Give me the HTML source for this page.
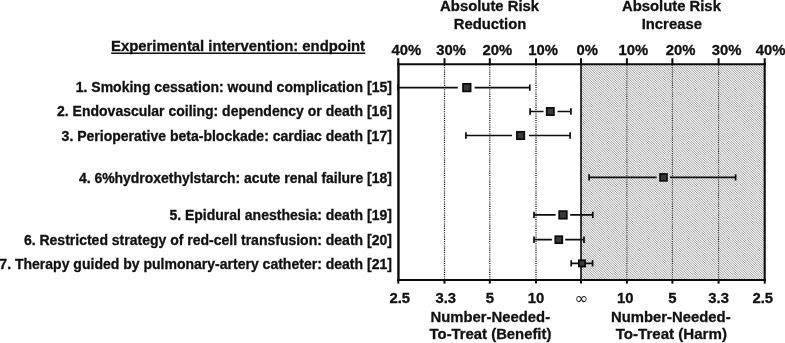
<!DOCTYPE html>
<html><head><meta charset="utf-8"><title>Absolute risk forest plot</title>
<style>
html,body{margin:0;padding:0;background:#fff;}
svg{display:block;font-family:"Liberation Sans",Arial,Helvetica,sans-serif;font-weight:bold;fill:#111;}
text{stroke:#111;stroke-width:0.3px;}
.t{font-size:14.85px}
.r{font-size:14.03px}
</style></head><body>
<svg width="785" height="343" viewBox="0 0 785 343">
<rect x="0" y="0" width="785" height="343" fill="#fff"/>

<clipPath id="hc"><rect x="581.0" y="64.2" width="183.7" height="215.8"/></clipPath>
<rect x="581.0" y="64.2" width="183.7" height="215.8" fill="#fbfbfb"/>
<path clip-path="url(#hc)" d="M347.94,64.2l233.1,215.8M350.44,64.2l233.1,215.8M352.94,64.2l233.1,215.8M355.44,64.2l233.1,215.8M357.94,64.2l233.1,215.8M360.44,64.2l233.1,215.8M362.94,64.2l233.1,215.8M365.44,64.2l233.1,215.8M367.94,64.2l233.1,215.8M370.44,64.2l233.1,215.8M372.94,64.2l233.1,215.8M375.44,64.2l233.1,215.8M377.94,64.2l233.1,215.8M380.44,64.2l233.1,215.8M382.94,64.2l233.1,215.8M385.44,64.2l233.1,215.8M387.94,64.2l233.1,215.8M390.44,64.2l233.1,215.8M392.94,64.2l233.1,215.8M395.44,64.2l233.1,215.8M397.94,64.2l233.1,215.8M400.44,64.2l233.1,215.8M402.94,64.2l233.1,215.8M405.44,64.2l233.1,215.8M407.94,64.2l233.1,215.8M410.44,64.2l233.1,215.8M412.94,64.2l233.1,215.8M415.44,64.2l233.1,215.8M417.94,64.2l233.1,215.8M420.44,64.2l233.1,215.8M422.94,64.2l233.1,215.8M425.44,64.2l233.1,215.8M427.94,64.2l233.1,215.8M430.44,64.2l233.1,215.8M432.94,64.2l233.1,215.8M435.44,64.2l233.1,215.8M437.94,64.2l233.1,215.8M440.44,64.2l233.1,215.8M442.94,64.2l233.1,215.8M445.44,64.2l233.1,215.8M447.94,64.2l233.1,215.8M450.44,64.2l233.1,215.8M452.94,64.2l233.1,215.8M455.44,64.2l233.1,215.8M457.94,64.2l233.1,215.8M460.44,64.2l233.1,215.8M462.94,64.2l233.1,215.8M465.44,64.2l233.1,215.8M467.94,64.2l233.1,215.8M470.44,64.2l233.1,215.8M472.94,64.2l233.1,215.8M475.44,64.2l233.1,215.8M477.94,64.2l233.1,215.8M480.44,64.2l233.1,215.8M482.94,64.2l233.1,215.8M485.44,64.2l233.1,215.8M487.94,64.2l233.1,215.8M490.44,64.2l233.1,215.8M492.94,64.2l233.1,215.8M495.44,64.2l233.1,215.8M497.94,64.2l233.1,215.8M500.44,64.2l233.1,215.8M502.94,64.2l233.1,215.8M505.44,64.2l233.1,215.8M507.94,64.2l233.1,215.8M510.44,64.2l233.1,215.8M512.94,64.2l233.1,215.8M515.44,64.2l233.1,215.8M517.94,64.2l233.1,215.8M520.44,64.2l233.1,215.8M522.94,64.2l233.1,215.8M525.44,64.2l233.1,215.8M527.94,64.2l233.1,215.8M530.44,64.2l233.1,215.8M532.94,64.2l233.1,215.8M535.44,64.2l233.1,215.8M537.94,64.2l233.1,215.8M540.44,64.2l233.1,215.8M542.94,64.2l233.1,215.8M545.44,64.2l233.1,215.8M547.94,64.2l233.1,215.8M550.44,64.2l233.1,215.8M552.94,64.2l233.1,215.8M555.44,64.2l233.1,215.8M557.94,64.2l233.1,215.8M560.44,64.2l233.1,215.8M562.94,64.2l233.1,215.8M565.44,64.2l233.1,215.8M567.94,64.2l233.1,215.8M570.44,64.2l233.1,215.8M572.94,64.2l233.1,215.8M575.44,64.2l233.1,215.8M577.94,64.2l233.1,215.8M580.44,64.2l233.1,215.8M582.94,64.2l233.1,215.8M585.44,64.2l233.1,215.8M587.94,64.2l233.1,215.8M590.44,64.2l233.1,215.8M592.94,64.2l233.1,215.8M595.44,64.2l233.1,215.8M597.94,64.2l233.1,215.8M600.44,64.2l233.1,215.8M602.94,64.2l233.1,215.8M605.44,64.2l233.1,215.8M607.94,64.2l233.1,215.8M610.44,64.2l233.1,215.8M612.94,64.2l233.1,215.8M615.44,64.2l233.1,215.8M617.94,64.2l233.1,215.8M620.44,64.2l233.1,215.8M622.94,64.2l233.1,215.8M625.44,64.2l233.1,215.8M627.94,64.2l233.1,215.8M630.44,64.2l233.1,215.8M632.94,64.2l233.1,215.8M635.44,64.2l233.1,215.8M637.94,64.2l233.1,215.8M640.44,64.2l233.1,215.8M642.94,64.2l233.1,215.8M645.44,64.2l233.1,215.8M647.94,64.2l233.1,215.8M650.44,64.2l233.1,215.8M652.94,64.2l233.1,215.8M655.44,64.2l233.1,215.8M657.94,64.2l233.1,215.8M660.44,64.2l233.1,215.8M662.94,64.2l233.1,215.8M665.44,64.2l233.1,215.8M667.94,64.2l233.1,215.8M670.44,64.2l233.1,215.8M672.94,64.2l233.1,215.8M675.44,64.2l233.1,215.8M677.94,64.2l233.1,215.8M680.44,64.2l233.1,215.8M682.94,64.2l233.1,215.8M685.44,64.2l233.1,215.8M687.94,64.2l233.1,215.8M690.44,64.2l233.1,215.8M692.94,64.2l233.1,215.8M695.44,64.2l233.1,215.8M697.94,64.2l233.1,215.8M700.44,64.2l233.1,215.8M702.94,64.2l233.1,215.8M705.44,64.2l233.1,215.8M707.94,64.2l233.1,215.8M710.44,64.2l233.1,215.8M712.94,64.2l233.1,215.8M715.44,64.2l233.1,215.8M717.94,64.2l233.1,215.8M720.44,64.2l233.1,215.8M722.94,64.2l233.1,215.8M725.44,64.2l233.1,215.8M727.94,64.2l233.1,215.8M730.44,64.2l233.1,215.8M732.94,64.2l233.1,215.8M735.44,64.2l233.1,215.8M737.94,64.2l233.1,215.8M740.44,64.2l233.1,215.8M742.94,64.2l233.1,215.8M745.44,64.2l233.1,215.8M747.94,64.2l233.1,215.8M750.44,64.2l233.1,215.8M752.94,64.2l233.1,215.8M755.44,64.2l233.1,215.8M757.94,64.2l233.1,215.8M760.44,64.2l233.1,215.8M762.94,64.2l233.1,215.8" stroke="#828282" stroke-width="0.74" fill="none"/>
<line x1="444.5" y1="65" x2="444.5" y2="279" stroke="#1a1a1a" stroke-width="1.25" stroke-dasharray="1.1 1.1"/>
<line x1="489.8" y1="65" x2="489.8" y2="279" stroke="#1a1a1a" stroke-width="1.25" stroke-dasharray="1.1 1.1"/>
<line x1="536.0" y1="65" x2="536.0" y2="279" stroke="#1a1a1a" stroke-width="1.25" stroke-dasharray="1.1 1.1"/>
<line x1="626.9" y1="65" x2="626.9" y2="279" stroke="#303030" stroke-width="1.05" stroke-dasharray="1.1 1.1"/>
<line x1="672.4" y1="65" x2="672.4" y2="279" stroke="#303030" stroke-width="1.05" stroke-dasharray="1.1 1.1"/>
<line x1="718.6" y1="65" x2="718.6" y2="279" stroke="#303030" stroke-width="1.05" stroke-dasharray="1.1 1.1"/>
<line x1="581.0" y1="64.2" x2="581.0" y2="280.0" stroke="#0a0a0a" stroke-width="1.6"/>
<g stroke="#0a0a0a" fill="none"><path d="M398.45,63.2 V281.05" stroke-width="2.4"/><path d="M764.7,63.2 V281.05" stroke-width="2.1"/><path d="M397.25,64.2 H765.75" stroke-width="2"/><path d="M397.25,280.0 H765.75" stroke-width="2.1"/></g>
<line x1="398.3" y1="58.2" x2="398.3" y2="64.2" stroke="#0a0a0a" stroke-width="2"/>
<line x1="398.3" y1="280.0" x2="398.3" y2="283.6" stroke="#0a0a0a" stroke-width="2"/>
<line x1="444.5" y1="58.2" x2="444.5" y2="64.2" stroke="#0a0a0a" stroke-width="2"/>
<line x1="444.5" y1="280.0" x2="444.5" y2="283.6" stroke="#0a0a0a" stroke-width="2"/>
<line x1="489.8" y1="58.2" x2="489.8" y2="64.2" stroke="#0a0a0a" stroke-width="2"/>
<line x1="489.8" y1="280.0" x2="489.8" y2="283.6" stroke="#0a0a0a" stroke-width="2"/>
<line x1="536.0" y1="58.2" x2="536.0" y2="64.2" stroke="#0a0a0a" stroke-width="2"/>
<line x1="536.0" y1="280.0" x2="536.0" y2="283.6" stroke="#0a0a0a" stroke-width="2"/>
<line x1="581.0" y1="58.2" x2="581.0" y2="64.2" stroke="#0a0a0a" stroke-width="2"/>
<line x1="581.0" y1="280.0" x2="581.0" y2="283.6" stroke="#0a0a0a" stroke-width="2"/>
<line x1="626.9" y1="58.2" x2="626.9" y2="64.2" stroke="#0a0a0a" stroke-width="2"/>
<line x1="626.9" y1="280.0" x2="626.9" y2="283.6" stroke="#0a0a0a" stroke-width="2"/>
<line x1="672.4" y1="58.2" x2="672.4" y2="64.2" stroke="#0a0a0a" stroke-width="2"/>
<line x1="672.4" y1="280.0" x2="672.4" y2="283.6" stroke="#0a0a0a" stroke-width="2"/>
<line x1="718.6" y1="58.2" x2="718.6" y2="64.2" stroke="#0a0a0a" stroke-width="2"/>
<line x1="718.6" y1="280.0" x2="718.6" y2="283.6" stroke="#0a0a0a" stroke-width="2"/>
<line x1="764.7" y1="58.2" x2="764.7" y2="64.2" stroke="#0a0a0a" stroke-width="2"/>
<line x1="764.7" y1="280.0" x2="764.7" y2="283.6" stroke="#0a0a0a" stroke-width="2"/>
<g stroke="#0c0c0c" stroke-width="1.7" fill="none"><path d="M398.1,87.6 H457.8 M474.6,87.6 H529.8 M398.1,84.39999999999999 V90.8 M529.8,84.39999999999999 V90.8"/><rect x="463.00" y="83.80" width="7.6" height="7.6" fill="#393939" stroke="#0a0a0a" stroke-width="1.7"/></g>
<g stroke="#0c0c0c" stroke-width="1.7" fill="none"><path d="M530.1,111.5 H543.5 M557.5,111.5 H570.9 M530.1,108.3 V114.7 M570.9,108.3 V114.7"/><rect x="546.70" y="107.90" width="7.2" height="7.2" fill="#393939" stroke="#0a0a0a" stroke-width="1.7"/></g>
<g stroke="#0c0c0c" stroke-width="1.7" fill="none"><path d="M465.9,135.5 H512.0 M528.9,135.5 H570.1 M465.9,132.3 V138.7 M570.1,132.3 V138.7"/><rect x="516.90" y="131.80" width="7.4" height="7.4" fill="#393939" stroke="#0a0a0a" stroke-width="1.7"/></g>
<g stroke="#0c0c0c" stroke-width="1.7" fill="none"><path d="M589.1,177.4 H656.6 M669.9,177.4 H735.6 M589.1,174.20000000000002 V180.6 M735.6,174.20000000000002 V180.6"/><rect x="660.05" y="173.95" width="6.9" height="6.9" fill="#393939" stroke="#0a0a0a" stroke-width="1.7"/></g>
<g stroke="#0c0c0c" stroke-width="1.7" fill="none"><path d="M534.0,214.9 H555.6 M570.2,214.9 H592.8 M534.0,211.70000000000002 V218.1 M592.8,211.70000000000002 V218.1"/><rect x="559.20" y="211.10" width="7.6" height="7.6" fill="#393939" stroke="#0a0a0a" stroke-width="1.7"/></g>
<g stroke="#0c0c0c" stroke-width="1.7" fill="none"><path d="M534.0,239.7 H551.9 M565.2,239.7 H584.0 M534.0,236.5 V242.89999999999998 M584.0,236.5 V242.89999999999998"/><rect x="555.30" y="236.20" width="7.0" height="7.0" fill="#393939" stroke="#0a0a0a" stroke-width="1.7"/></g>
<g stroke="#0c0c0c" stroke-width="1.7" fill="none"><path d="M571.2,263.4 H578.0 M586.0,263.4 H592.6 M571.2,260.2 V266.59999999999997 M592.6,260.2 V266.59999999999997"/><rect x="578.85" y="260.25" width="6.3" height="6.3" fill="#393939" stroke="#0a0a0a" stroke-width="1.7"/></g>
<text class="r" style="font-size:14.03px" x="391.9" y="92.2" text-anchor="end">1. Smoking cessation: wound complication [15]</text>
<text class="r" style="font-size:14.03px" x="391.9" y="116.3" text-anchor="end">2. Endovascular coiling: dependency or death [16]</text>
<text class="r" style="font-size:14.03px" x="391.9" y="140.8" text-anchor="end">3. Perioperative beta-blockade: cardiac death [17]</text>
<text class="r" style="font-size:13.95px" x="391.9" y="182.5" text-anchor="end">4. 6%hydroxethylstarch: acute renal failure [18]</text>
<text class="r" style="font-size:14.0px" x="391.9" y="219.5" text-anchor="end">5. Epidural anesthesia: death [19]</text>
<text class="r" style="font-size:14.0px" x="391.9" y="244.9" text-anchor="end">6. Restricted strategy of red-cell transfusion: death [20]</text>
<text class="r" style="font-size:14.03px" x="391.9" y="268.6" text-anchor="end">7. Therapy guided by pulmonary-artery catheter: death [21]</text>
<text class="t" x="111.0" y="50.8">Experimental intervention: endpoint</text>
<line x1="111.2" y1="53.2" x2="365.3" y2="53.2" stroke="#111" stroke-width="1.5"/>
<text class="t" x="489.6" y="10.5" text-anchor="middle">Absolute Risk</text>
<text class="t" x="490" y="28.7" text-anchor="middle">Reduction</text>
<text class="t" x="671.4" y="10.5" text-anchor="middle">Absolute Risk</text>
<text class="t" x="671.8" y="28.7" text-anchor="middle">Increase</text>
<text class="t" transform="translate(391.6,54.9) scale(1,1.03)">40%</text>
<text class="t" transform="translate(436.2,54.9) scale(1,1.03)">30%</text>
<text class="t" transform="translate(482.6,54.9) scale(1,1.03)">20%</text>
<text class="t" transform="translate(528.2,54.9) scale(1,1.03)">10%</text>
<text class="t" transform="translate(576.4,54.9) scale(1,1.03)">0%</text>
<text class="t" transform="translate(618.4,54.9) scale(1,1.03)">10%</text>
<text class="t" transform="translate(665.7,54.9) scale(1,1.03)">20%</text>
<text class="t" transform="translate(711.7,54.9) scale(1,1.03)">30%</text>
<text class="t" transform="translate(755.7,54.9) scale(1,1.03)">40%</text>
<text class="t" transform="translate(399.8,302.7) scale(1,1.0)" text-anchor="middle">2.5</text>
<text class="t" transform="translate(445.7,302.7) scale(1,1.0)" text-anchor="middle">3.3</text>
<text class="t" transform="translate(489.8,302.7) scale(1,1.0)" text-anchor="middle">5</text>
<text class="t" transform="translate(536.0,302.7) scale(1,1.0)" text-anchor="middle">10</text>
<text class="t" transform="translate(625.3,302.7) scale(1,1.0)" text-anchor="middle">10</text>
<text class="t" transform="translate(672.4,302.7) scale(1,1.0)" text-anchor="middle">5</text>
<text class="t" transform="translate(718.6,302.7) scale(1,1.0)" text-anchor="middle">3.3</text>
<text class="t" transform="translate(762.8,302.7) scale(1,1.0)" text-anchor="middle">2.5</text>
<text x="581.5" y="304.0" text-anchor="middle" style="font-weight:normal;stroke:none;fill:#222;font-size:16.6px;font-family:'DejaVu Sans','Liberation Sans',sans-serif">∞</text>
<text class="t" x="490.3" y="321.7" text-anchor="middle">Number-Needed-</text>
<text class="t" x="490.5" y="339.1" text-anchor="middle">To-Treat (Benefit)</text>
<text class="t" x="670.8" y="321.7" text-anchor="middle">Number-Needed-</text>
<text class="t" x="671.3" y="339.1" text-anchor="middle" style="font-size:15.1px">To-Treat (Harm)</text>
</svg></body></html>
